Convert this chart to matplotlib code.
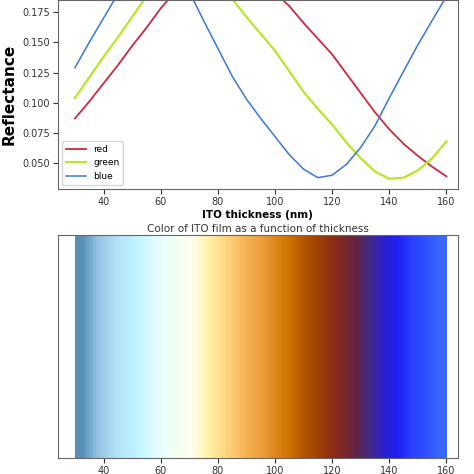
import matplotlib
matplotlib.use("Agg")
import matplotlib.pyplot as plt
import numpy as np
from matplotlib.colors import LinearSegmentedColormap

# --- data ---
thickness = list(range(30, 161, 5))
red = [0.087, 0.101, 0.116, 0.131, 0.147, 0.162, 0.178, 0.192, 0.204, 0.212,
       0.216, 0.215, 0.209, 0.200, 0.191, 0.180, 0.166, 0.153, 0.140, 0.124,
       0.108, 0.092, 0.078, 0.066, 0.056, 0.047, 0.039]
green = [0.104, 0.121, 0.138, 0.154, 0.171, 0.188, 0.203, 0.212, 0.215, 0.211,
         0.200, 0.186, 0.171, 0.157, 0.143, 0.126, 0.109, 0.095, 0.082, 0.067,
         0.054, 0.043, 0.037, 0.038, 0.044, 0.054, 0.068]
blue = [0.129, 0.150, 0.170, 0.190, 0.205, 0.215, 0.218, 0.210, 0.192, 0.168,
        0.145, 0.122, 0.103, 0.087, 0.072, 0.057, 0.045, 0.038, 0.040, 0.049,
        0.063, 0.081, 0.104, 0.126, 0.148, 0.168, 0.188]
film_colors = ["#5a8fb5", "#8ebfe0", "#a8d8f0", "#b8e8f8", "#c0f4ff", "#d8faff",
               "#ecfffc", "#f4fff0", "#fffff0", "#fff4b0", "#ffe090", "#fcc870",
               "#f4b050", "#eca040", "#e08820", "#d07400", "#b85800", "#a04400",
               "#903010", "#7c2828", "#602448", "#402a8c", "#2a20d0", "#2020f8",
               "#2a40ff", "#3050ff", "#3868ff"]

fig = plt.figure(figsize=(4.74, 4.74), dpi=100)
tick_kw = dict(labelsize=7, colors="#333333", labelcolor="#333333", pad=2)

# --- top: reflectance curves ---
ax1 = fig.add_axes([0.122, 0.601, 0.844, 0.399])
ax1.plot(thickness, red, color="#d0283c", lw=1.3, label="red")
ax1.plot(thickness, green, color="#b8e62a", lw=1.6, label="green")
ax1.plot(thickness, blue, color="#3a78d8", lw=1.1, label="blue")
ax1.set_xlim(24, 164)
ax1.set_ylim(0.0285, 0.185)
ax1.set_yticks([0.05, 0.075, 0.1, 0.125, 0.15, 0.175])
ax1.set_yticklabels(["0.050", "0.075", "0.100", "0.125", "0.150", "0.175"])
ax1.set_xticks(range(40, 161, 20))
ax1.tick_params(**tick_kw)
ax1.set_xlabel("ITO thickness (nm)", fontsize=7.5, fontweight="bold", labelpad=2)
ax1.set_ylabel("Reflectance", fontsize=11, fontweight="bold")
ax1.legend(loc="lower left", fontsize=6.5, handlelength=2.2)
for s in ax1.spines.values():
    s.set_color("#666666")

# --- bottom: film colour strip ---
ax2 = fig.add_axes([0.122, 0.033, 0.844, 0.472])
cmap = LinearSegmentedColormap.from_list(
    "ito", list(zip(np.linspace(0, 1, len(film_colors)), film_colors)))
ax2.imshow(np.array(thickness, dtype=float)[None, :], cmap=cmap, aspect="auto",
           interpolation="bilinear", extent=(30, 160, 0, 1))
ax2.set_xlim(24, 164)
ax2.set_ylim(0, 1)
ax2.set_yticks([])
ax2.set_xticks(range(40, 161, 20))
ax2.tick_params(**tick_kw)
ax2.set_title("Color of ITO film as a function of thickness", fontsize=7.5,
              color="#333333", pad=2)
for s in ax2.spines.values():
    s.set_color("#666666")

fig.savefig("out.png", dpi=100)
